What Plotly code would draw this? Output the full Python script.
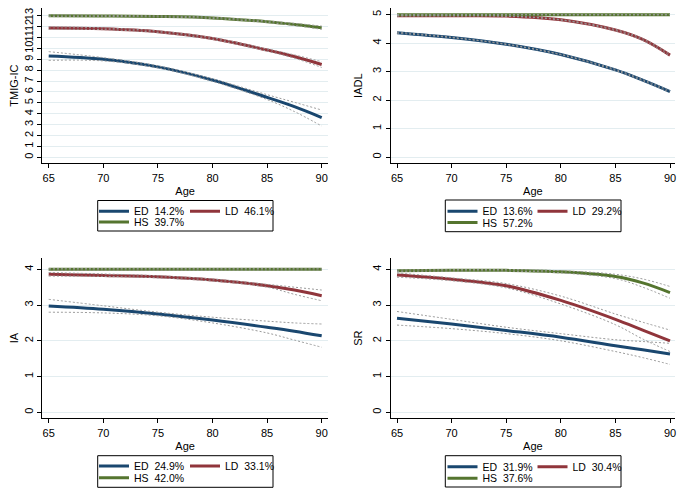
import plotly.graph_objects as go

# ---------------- data ----------------
ages = [65, 70, 75, 80, 85, 87.5, 90]
x_ticks = [65, 70, 75, 80, 85, 90]

# TMIG-IC
tmig_ed = [9.3, 9.0, 8.3, 7.1, 5.5, 4.65, 3.65]
tmig_ed_lo = [8.9, 8.85, 8.2, 6.97, 5.3, 4.2, 2.87]
tmig_ed_hi = [9.7, 9.15, 8.4, 7.2, 5.75, 5.05, 4.34]
tmig_ld = [11.87, 11.8, 11.53, 10.9, 9.85, 9.25, 8.52]
tmig_ld_lo = [11.75, 11.72, 11.45, 10.82, 9.75, 9.1, 8.25]
tmig_ld_hi = [11.98, 11.88, 11.6, 10.98, 9.95, 9.4, 8.78]
tmig_hs = [13.0, 12.98, 12.93, 12.8, 12.45, 12.2, 11.9]
tmig_hs_lo = [12.93, 12.93, 12.88, 12.74, 12.38, 12.1, 11.75]
tmig_hs_hi = [13.07, 13.03, 12.98, 12.86, 12.52, 12.3, 12.05]

# IADL
iadl_ed = [4.37, 4.2, 3.96, 3.6, 3.06, 2.7, 2.3]
iadl_ed_lo = [4.35, 4.19, 3.95, 3.59, 3.04, 2.68, 2.27]
iadl_ed_hi = [4.39, 4.21, 3.97, 3.61, 3.08, 2.72, 2.33]
iadl_ld = [4.96, 4.96, 4.95, 4.82, 4.46, 4.13, 3.58]
iadl_ld_lo = [4.95, 4.95, 4.94, 4.81, 4.44, 4.1, 3.55]
iadl_ld_hi = [4.97, 4.97, 4.96, 4.83, 4.48, 4.16, 3.61]
iadl_hs = [5.0, 5.0, 5.0, 5.0, 5.0, 5.0, 5.0]
iadl_hs_lo = [4.99, 4.99, 4.99, 4.99, 4.99, 4.99, 4.99]
iadl_hs_hi = [5.01, 5.01, 5.01, 5.01, 5.01, 5.01, 5.01]

# IA
ia_ed = [2.97, 2.88, 2.75, 2.58, 2.38, 2.27, 2.14]
ia_ed_lo = [2.8, 2.78, 2.7, 2.5, 2.22, 2.02, 1.82]
ia_ed_hi = [3.16, 2.98, 2.8, 2.66, 2.55, 2.5, 2.47]
ia_ld = [3.86, 3.83, 3.79, 3.7, 3.54, 3.42, 3.26]
ia_ld_lo = [3.81, 3.8, 3.76, 3.67, 3.5, 3.3, 3.12]
ia_ld_hi = [3.91, 3.87, 3.82, 3.73, 3.58, 3.5, 3.42]
ia_hs = [4.0, 4.0, 4.0, 4.0, 4.0, 4.0, 4.0]
ia_hs_lo = [3.98, 3.98, 3.98, 3.98, 3.98, 3.98, 3.98]
ia_hs_hi = [4.02, 4.02, 4.02, 4.02, 4.02, 4.02, 4.02]

# SR
sr_ed = [2.63, 2.47, 2.29, 2.1, 1.86, 1.75, 1.63]
sr_ed_lo = [2.44, 2.34, 2.2, 2.0, 1.7, 1.53, 1.34]
sr_ed_hi = [2.82, 2.6, 2.38, 2.2, 2.03, 1.98, 1.93]
sr_ld = [3.84, 3.72, 3.54, 3.13, 2.6, 2.3, 2.0]
sr_ld_lo = [3.78, 3.68, 3.48, 3.03, 2.45, 2.05, 1.7]
sr_ld_hi = [3.9, 3.76, 3.6, 3.25, 2.75, 2.52, 2.3]
sr_hs = [3.96, 3.97, 3.97, 3.93, 3.8, 3.62, 3.35]
sr_hs_lo = [3.94, 3.95, 3.95, 3.9, 3.74, 3.5, 3.19]
sr_hs_hi = [3.98, 3.99, 3.99, 3.96, 3.86, 3.73, 3.52]

groups = ["ED", "LD", "HS"]
tmig_pct = ["14.2%", "46.1%", "39.7%"]
iadl_pct = ["13.6%", "29.2%", "57.2%"]
ia_pct = ["24.9%", "33.1%", "42.0%"]
sr_pct = ["31.9%", "30.4%", "37.6%"]

titles = ["TMIG-IC", "IADL", "IA", "SR"]
y_maxes = [13, 5, 4, 4]

# ---------------- styling / layout ----------------
# the page body has an 8px margin, so the figure is drawn 8px smaller and
# every reference pixel position is shifted by that offset
OFF = 8
W, H = 685 - OFF, 499 - OFF
colors = {"ED": "#1a476f", "LD": "#90353b", "HS": "#55752f"}
FONT = "Liberation Sans, Arial, sans-serif"


def px_x(v):
    return (v - OFF) / W


def px_y(v):
    return 1 - (v - OFF) / H


panels = [
    dict(series=[(tmig_ed, tmig_ed_lo, tmig_ed_hi), (tmig_ld, tmig_ld_lo, tmig_ld_hi),
                 (tmig_hs, tmig_hs_lo, tmig_hs_hi)], pct=tmig_pct,
         xpx=(42.3, 328, 48.7, 321.7), ypx=(8, 163.3, 157.3, 15.7),
         leg=(99, 190, 211.3, 222.0), box=(97.7, 273, 200.5, 231)),
    dict(series=[(iadl_ed, iadl_ed_lo, iadl_ed_hi), (iadl_ld, iadl_ld_lo, iadl_ld_hi),
                 (iadl_hs, iadl_hs_lo, iadl_hs_hi)], pct=iadl_pct,
         xpx=(390.7, 675, 397, 670), ypx=(8, 163.3, 157, 14.7),
         leg=(447.5, 537.5, 211.3, 222.5), box=(445.3, 621, 200, 231.7)),
    dict(series=[(ia_ed, ia_ed_lo, ia_ed_hi), (ia_ld, ia_ld_lo, ia_ld_hi),
                 (ia_hs, ia_hs_lo, ia_hs_hi)], pct=ia_pct,
         xpx=(42.3, 328, 48.7, 321.7), ypx=(258, 418.3, 412.3, 269.3),
         leg=(99, 190, 466.0, 477.7), box=(97.7, 273, 455.7, 487.3)),
    dict(series=[(sr_ed, sr_ed_lo, sr_ed_hi), (sr_ld, sr_ld_lo, sr_ld_hi),
                 (sr_hs, sr_hs_lo, sr_hs_hi)], pct=sr_pct,
         xpx=(390.7, 675, 397, 670), ypx=(258, 418.3, 412.3, 269.3),
         leg=(447.5, 537.5, 466.7, 478.3), box=(445.3, 621, 455.7, 487)),
]

fig = go.Figure()
layout = dict(width=W, height=H, margin=dict(l=0, r=0, t=0, b=0, autoexpand=False),
              paper_bgcolor="white", plot_bgcolor="white",
              font=dict(family=FONT, size=11, color="black"),
              shapes=[])

leg_idx = 0
for i, p in enumerate(panels):
    n = "" if i == 0 else str(i + 1)
    xa, ya = "x" + n, "y" + n
    for g, (vals, lo, hi), pc in zip(groups, p["series"], p["pct"]):
        leg_idx += 1
        lname = "legend" if leg_idx == 1 else "legend%d" % leg_idx
        fig.add_trace(go.Scatter(
            x=ages, y=vals, mode="lines", name=g + "\u00a0\u00a0" + pc,
            line=dict(color=colors[g], width=3, shape="spline"),
            xaxis=xa, yaxis=ya, legend=lname, showlegend=True))
        lx1, lx2, ly1, ly2 = p["leg"]
        if g == "ED":
            lx, ly = lx1, ly1
        elif g == "LD":
            lx, ly = lx2, ly1
        else:
            lx, ly = lx1, ly2
        layout[lname] = dict(x=px_x(lx - 5), y=px_y(ly), xanchor="left", yanchor="middle",
                             bgcolor="rgba(0,0,0,0)", borderwidth=0,
                             font=dict(family=FONT, size=10.5, color="black"),
                             itemwidth=30, tracegroupgap=0)
    for g, (vals, lo, hi) in zip(groups, p["series"]):
        for band in (lo, hi):
            fig.add_trace(go.Scatter(
                x=ages, y=band, mode="lines", showlegend=False,
                line=dict(color="#9a9a9a", width=1, dash="2px,2px", shape="spline"),
                xaxis=xa, yaxis=ya, hoverinfo="skip"))

    l, r, p65, p90 = p["xpx"]
    sx = (p90 - p65) / 25.0
    xr = [65 - (p65 - l) / sx, 90 + (r - p90) / sx]
    top, bot, p0, pm = p["ypx"]
    ym = y_maxes[i]
    sy = (p0 - pm) / ym
    yr = [0 - (bot - p0) / sy, ym + (pm - top) / sy]

    layout["xaxis" + n] = dict(
        domain=[px_x(l), px_x(r)], range=xr, anchor=ya, automargin=False,
        tickvals=x_ticks, ticks="outside", ticklen=4, tickcolor="black",
        ticklabeloverflow="allow",
        showline=True, linecolor="black", linewidth=1, showgrid=False, zeroline=False,
        tickfont=dict(size=11), title=dict(text="Age", font=dict(size=11), standoff=4))
    layout["yaxis" + n] = dict(
        domain=[px_y(bot), px_y(top)], range=yr, anchor=xa, automargin=False,
        tickvals=list(range(0, ym + 1)), ticks="outside", ticklen=4, tickcolor="black",
        tickangle=-90, ticklabeloverflow="allow",
        showline=True, linecolor="black", linewidth=1,
        showgrid=True, gridcolor="#e3edf0", gridwidth=1, zeroline=False,
        tickfont=dict(size=11), title=dict(text=titles[i], font=dict(size=11), standoff=6))

    bx1, bx2, by1, by2 = p["box"]
    layout["shapes"].append(dict(type="rect", xref="paper", yref="paper",
                                 x0=px_x(bx1), x1=px_x(bx2), y0=px_y(by2), y1=px_y(by1),
                                 line=dict(color="black", width=1), fillcolor="white",
                                 layer="below"))

fig.update_layout(**layout)
fig.write_html("out.html")
